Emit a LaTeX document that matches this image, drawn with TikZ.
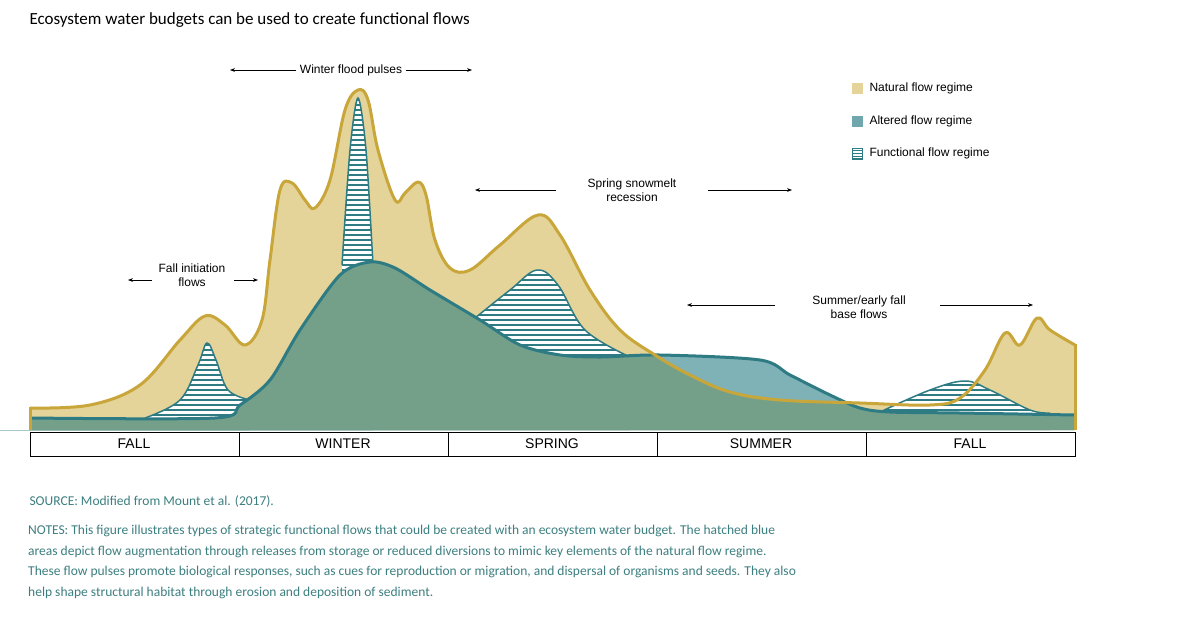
\documentclass[tikz,border=0pt]{standalone}
\usepackage{fontspec}
\setmainfont{Liberation Sans}
\newfontfamily\carlfont{Carlito}
\usetikzlibrary{arrows.meta}
\definecolor{tan}{HTML}{E4D49A}
\definecolor{gold}{HTML}{C9A63A}
\definecolor{altg}{HTML}{74A08A}
\definecolor{altb}{HTML}{7FB2B6}
\definecolor{tealline}{HTML}{2E7B83}
\definecolor{notec}{HTML}{3D7F80}
\def\natpath{plot[smooth,tension=0.6] coordinates{(30,408) (90,405) (140,385) (180,340) (205,316) (225,325) (245,345) (262,320) (270,260) (280,190) (292,183) (305,200) (315,208) (330,180) (345,110) (358,90) (368,100) (378,150) (395,200) (405,193) (418,182) (426,195) (435,240) (450,268) (470,270) (500,245) (538,215) (560,235) (590,290) (620,330) (655,355) (690,375) (730,392) (780,400) (860,403) (930,405) (960,398) (985,370) (1005,333) (1020,345) (1037,318) (1050,330) (1075,345)}}
\def\altpath{plot[smooth,tension=0.5] coordinates{(30,418) (215,418) (240,405) (270,380) (300,330) (340,275) (370,262) (395,268) (430,290) (480,320) (520,345) (560,355) (600,357) (660,355) (760,360) (790,375) (830,395) (860,408) (890,412) (960,413) (1075,415)}}
\def\fa{plot[smooth,tension=0.6] coordinates{(145,418) (180,400) (198,365) (207,343) (216,360) (228,390) (250,400)}}
\def\fb{plot[smooth,tension=0.5] coordinates{(342,265) (350,150) (358,98) (366,150) (373,265)}}
\def\fc{plot[smooth,tension=0.6] coordinates{(475,318) (510,290) (537,270) (558,285) (585,330) (630,357)}}
\def\fd{plot[smooth,tension=0.6] coordinates{(880,412) (930,390) (965,381) (990,390) (1030,410) (1050,413)}}
\newcommand{\hatchit}[1]{\begin{scope}\clip #1 |- (0,430) -| cycle; \fill[white] (0,0) rectangle (1200,430);
 \foreach \yy in {80,85,...,430} \draw[tealline,line width=1.6pt] (0,\yy) -- (1200,\yy);\end{scope}
 \draw[tealline,line width=1.5pt] #1;}
\tikzset{lbl/.style={font=\fontsize{12pt}{14pt}\selectfont,align=center},
 arr/.style={-{Stealth[length=5pt]},line width=0.6pt},
 season/.style={font=\fontsize{14pt}{16pt}\selectfont}}
\begin{document}
\begin{tikzpicture}[x=1pt,y=-1pt]
\useasboundingbox (0,0) rectangle (1200,630);
\fill[white] (0,0) rectangle (1200,630);
\node[anchor=west,font=\carlfont\fontsize{17pt}{20pt}\selectfont] (title) at (26,20) {Ecosystem water budgets can be used to create functional flows};
% natural fill
\fill[tan] \natpath -- (1075,430) -- (30,430) -- cycle;
% hatches
\hatchit{\fa}
\hatchit{\fb}
\hatchit{\fc}
\hatchit{\fd}
% altered
\fill[altb] \altpath -- (1075,430) -- (30,430) -- cycle;
\begin{scope}
\clip \natpath -- (1075,430) -- (30,430) -- cycle;
\fill[altg] \altpath -- (1075,430) -- (30,430) -- cycle;
\end{scope}
\draw[tealline,line width=3pt] \altpath;
\draw[gold,line width=3pt,line join=round] \natpath;
\draw[gold,line width=3pt] (30,406.5) -- (30,430);
\draw[gold,line width=3pt] (1075,343.5) -- (1075,430);
% season bar
\draw[line width=0.6pt,fill=white] (30,432) rectangle (1075,456);
\foreach \xx in {239,448,657,866} \draw[line width=0.6pt] (\xx,432) -- (\xx,456);
\node[season] (s1) at (134,444) {FALL};
\node[season] (s2) at (343,444) {WINTER};
\node[season] (s3) at (552,444) {SPRING};
\node[season] (s4) at (761,444) {SUMMER};
\node[season] (s5) at (970,444) {FALL};
% annotations
\node[lbl] (wf) at (351,70) {Winter flood pulses};
\coordinate (wf1) at (230,70); \coordinate (wf2) at (472,70);
\draw[arr] (wf.west) -- (wf1); \draw[arr] (wf.east) -- (wf2);
\node[lbl] (ss) at (632,190) {Spring snowmelt\\recession};
\coordinate (ss1) at (475,190); \coordinate (ss2) at (792,190);
\draw[arr] (556,190) -- (ss1); \draw[arr] (708,190) -- (ss2);
\node[lbl] (fi) at (192,275) {Fall initiation\\flows};
\coordinate (fi1) at (128,280); \coordinate (fi2) at (258,280);
\draw[arr] (152,280) -- (fi1); \draw[arr] (234,280) -- (fi2);
\node[lbl] (sb) at (859,307) {Summer/early fall\\base flows};
\coordinate (sb1) at (687,305); \coordinate (sb2) at (1033,305);
\draw[arr] (775,305) -- (sb1); \draw[arr] (940,305) -- (sb2);
% legend
\fill[tan] (852,83) rectangle (863,94);
\node[lbl,anchor=west] (l1) at (866,88) {Natural flow regime};
\fill[altb!80!tealline] (852,116) rectangle (863,127);
\node[lbl,anchor=west] (l2) at (866,121) {Altered flow regime};
\begin{scope}\clip (852,148) rectangle (863,159); \fill[white] (852,148) rectangle (863,159);
\foreach \yy in {150,153,...,160} \draw[tealline,line width=0.8pt] (852,\yy) -- (863,\yy);\end{scope}
\draw[tealline,line width=0.6pt] (852.3,148.3) rectangle (862.7,158.7);
\node[lbl,anchor=west] (l3) at (866,153) {Functional flow regime};
% notes
\node[anchor=west,text=notec,font=\carlfont\fontsize{13.5pt}{16pt}\selectfont] (src) at (26,501) {SOURCE: Modified from Mount et al. (2017).};
\node[anchor=north west,text=notec,align=left,inner sep=0pt,font=\carlfont\fontsize{13.5pt}{20.5pt}\selectfont] (notes) at (28,525) {NOTES: This figure illustrates types of strategic functional flows that could be created with an ecosystem water budget. The hatched blue\\areas depict flow augmentation through releases from storage or reduced diversions to mimic key elements of the natural flow regime.\\These flow pulses promote biological responses, such as cues for reproduction or migration, and dispersal of organisms and seeds. They also\\help shape structural habitat through erosion and deposition of sediment.};
\end{tikzpicture}
\end{document}
